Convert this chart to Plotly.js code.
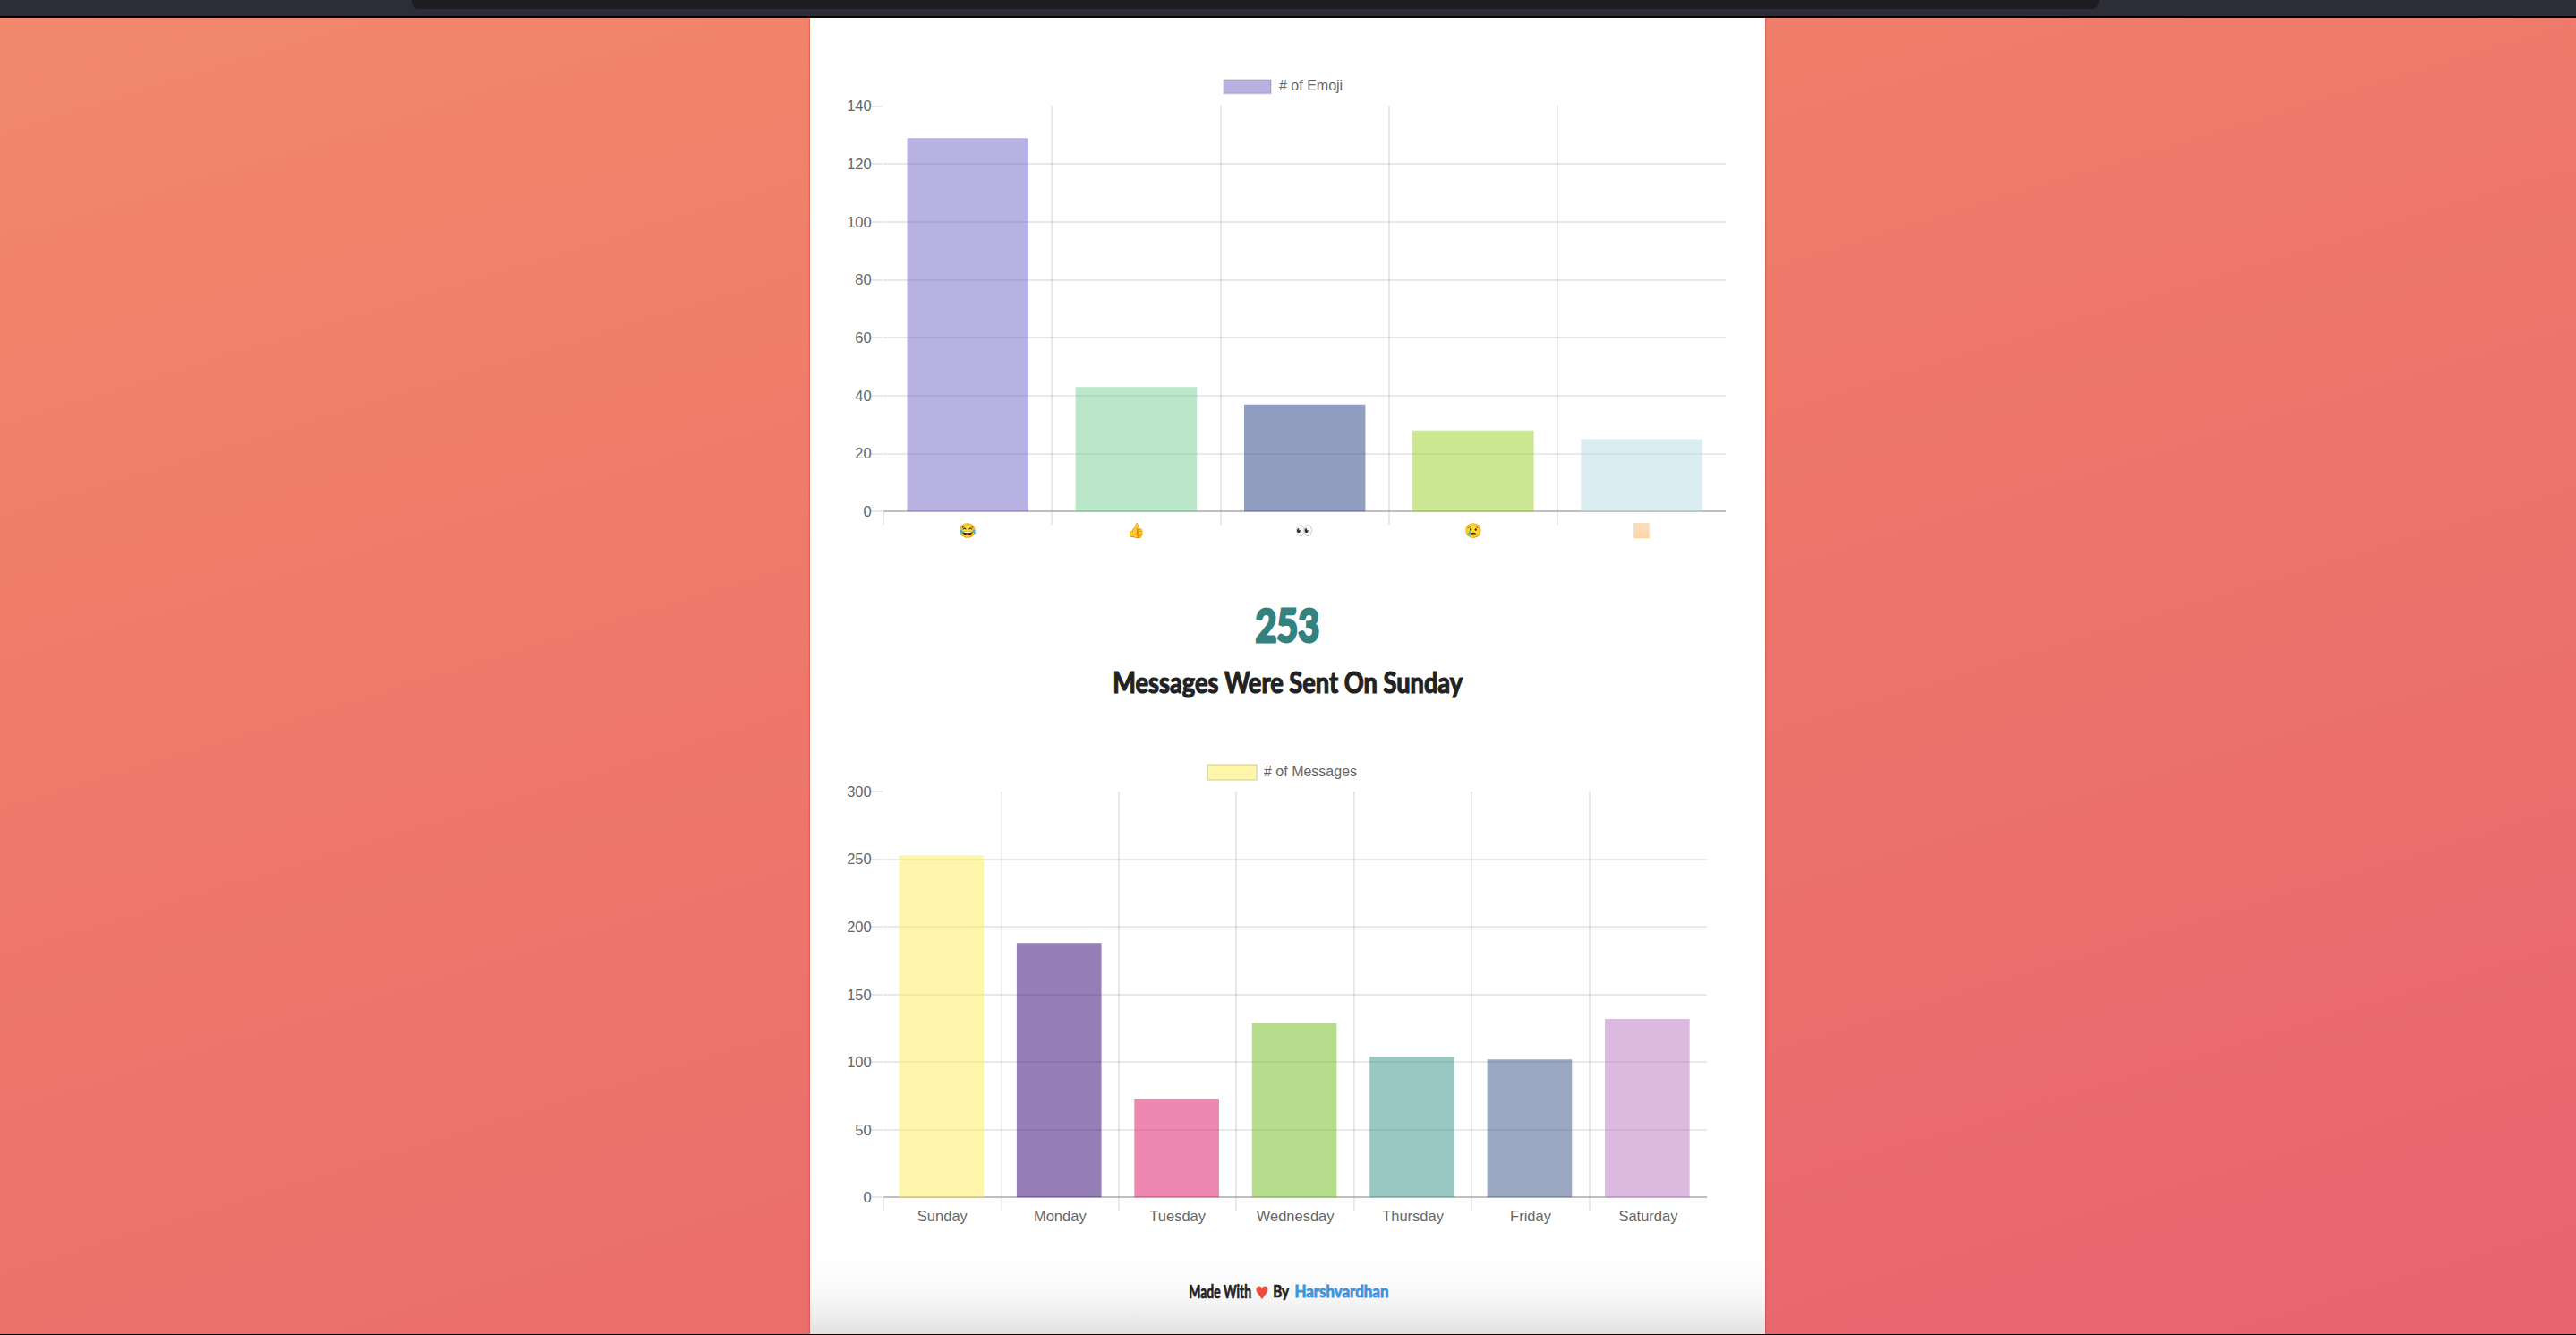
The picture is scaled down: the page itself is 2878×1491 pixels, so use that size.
<!DOCTYPE html>
<html><head><meta charset="utf-8">
<script src="https://cdn.plot.ly/plotly-3.0.1.min.js"></script>
<style>
html,body{margin:0;padding:0;width:2878px;height:1491px;overflow:hidden;background:#000}
#bg{position:absolute;left:0;top:20px;width:2878px;height:1470px;background:linear-gradient(163deg,#F1886A 0%,#EE776A 45%,#E8646F 100%)}
#panel{position:absolute;left:905px;top:20px;width:1067px;height:1470px;background:linear-gradient(to bottom,#fff 0,#fff 1385px,#f7f7f7 1430px,#e2e2e2 1470px);box-shadow:0 0 2px rgba(120,30,20,.6)}
#bar{position:absolute;left:0;top:0;width:2878px;height:18px;background:#2d2d37}
#bar2{position:absolute;left:460px;top:0;width:1885px;height:10px;background:#1c1c21;border-radius:0 0 8px 8px}
#chart{position:absolute;left:0;top:0;width:2878px;height:1491px}
</style></head><body>
<div id="bg"></div><div id="panel"></div><div id="bar"></div><div id="bar2"></div>
<div id="chart"></div>
<script>
// Data
const emojiLabels = ['😂','👍','👀','😢','🏻'];
const emojiCounts = [129,43,37,28,25];
const emojiColors = ['rgba(113,101,199,.5)','rgba(117,205,149,.5)','rgba(35,61,131,.5)','rgba(151,207,37,.5)','rgba(181,219,225,.5)'];
const dayLabels = ['Sunday','Monday','Tuesday','Wednesday','Thursday','Friday','Saturday'];
const dayCounts = [253,188,73,129,104,102,132];
const dayColors = ['rgba(251,237,87,.5)','rgba(43,0,109,.5)','rgba(221,17,99,.5)','rgba(109,187,23,.5)','rgba(55,143,133,.5)','rgba(57,81,131,.5)','rgba(185,117,193,.5)'];
const emojiLegend = '# of Emoji', dayLegend = '# of Messages';
const bigNumber = '253', headline = 'Messages Were Sent On Sunday';
const footerMade = 'Made With', footerHeart = '♥', footerBy = 'By', footerName = 'Harshvardhan';

const W=2878,H=1491;
const fx=p=>p/W, fy=p=>1-p/H;
const tickFont={family:'"Liberation Sans",Arial,sans-serif',size:16.5,color:'#666'};
const display='Lato,"Liberation Sans",sans-serif';
const grid='rgba(0,0,0,.085)';
function xa(dom){return {domain:dom,type:'category',tickson:'boundaries',ticks:'outside',ticklen:14,tickcolor:grid,tickwidth:2,showgrid:true,gridcolor:grid,gridwidth:2,showline:false,zeroline:false,tickfont:tickFont,ticklabelstandoff:9,fixedrange:true,tickangle:0};}
function ya(dom,top,dt){return {domain:dom,range:[0,top],dtick:dt,ticks:'outside',ticklen:14,tickcolor:grid,tickwidth:2,showgrid:true,gridcolor:grid,gridwidth:2,zeroline:true,zerolinecolor:'rgba(0,0,0,.25)',zerolinewidth:2,showline:false,tickfont:tickFont,ticklabelstandoff:-5,fixedrange:true};}

const traces=[
 {type:'bar',x:emojiLabels,y:emojiCounts,xaxis:'x',yaxis:'y',marker:{color:emojiColors,line:{width:0}},width:0.72,hoverinfo:'x+y'},
 {type:'bar',x:dayLabels,y:dayCounts,xaxis:'x2',yaxis:'y2',marker:{color:dayColors,line:{width:0}},width:0.72,offset:-0.368,hoverinfo:'x+y'}
];
const xaxis=xa([fx(987),fx(1928)]); xaxis.anchor='y'; xaxis.range=[-0.501,4.499];
xaxis.tickfont=Object.assign({},tickFont,{family:'"Noto Color Emoji","Apple Color Emoji","Liberation Sans",sans-serif',size:16}); xaxis.ticklabelstandoff=10;
const xaxis2=xa([fx(987),fx(1907)]); xaxis2.anchor='y2'; xaxis2.range=[-0.501,6.499];
const yaxis=ya([fy(571.4),fy(118.4)],140.05,20); yaxis.anchor='x';
const yaxis2=ya([fy(1337.4),fy(884)],300.1,50); yaxis2.anchor='x2';

function ann(text,x,y,size,color,family,extra){return Object.assign({xref:'paper',yref:'paper',x:fx(x),y:fy(y),text,showarrow:false,xanchor:'center',yanchor:'middle',font:{size,color,family}},extra||{});}
const layout={
 width:W,height:H,margin:{l:0,r:0,t:0,b:0,pad:0},paper_bgcolor:'rgba(0,0,0,0)',plot_bgcolor:'rgba(0,0,0,0)',showlegend:false,
 xaxis,yaxis,xaxis2,yaxis2,
 shapes:[
  {type:'rect',xref:'paper',yref:'paper',x0:fx(1367),x1:fx(1420),y0:fy(104.5),y1:fy(89),fillcolor:emojiColors[0],line:{color:'rgba(0,0,0,.1)',width:2}},
  {type:'rect',xref:'paper',yref:'paper',x0:fx(1349),x1:fx(1404),y0:fy(871),y1:fy(854),fillcolor:dayColors[0],line:{color:'rgba(0,0,0,.1)',width:2}}
 ],
 annotations:[
  ann(emojiLegend,1427,95,16,'#666',tickFont.family,{xanchor:'left'}),
  ann(dayLegend,1410,861,16,'#666',tickFont.family,{xanchor:'left'}),
  ann('<b>'+bigNumber+'</b>',1438.5,697,51,'#348280',display),
  ann('<b>'+headline+'</b>',1438.5,761,32,'#222',display),
  ann('<b>'+footerMade+'</b>',1362.5,1441.5,20,'#222',display),
  ann(footerHeart,1410,1444,20,'#e74c3c','"DejaVu Sans",sans-serif'),
  ann('<b>'+footerBy+'</b>',1431,1441.5,19,'#222',display),
  ann('<b>'+footerName+'</b>',1499,1441.5,18,'#3d94db',display)
 ]
};
// condensed, heavy display text: [exact width in px, stroke weight]
const fit={[bigNumber]:[72,3],[headline]:[391,1.2],[footerMade]:[70,.7],[footerBy]:[18,.7],[footerName]:[105,.8],[footerHeart]:[16,0]};
Plotly.newPlot('chart',traces,layout,{displayModeBar:false,staticPlot:true}).then(()=>{
 document.querySelectorAll('#chart .annotation-text').forEach(t=>{
  const f=fit[t.textContent];
  if(f){t.setAttribute('textLength',f[0]);t.setAttribute('lengthAdjust','spacingAndGlyphs');t.style.stroke=t.style.fill;t.style.strokeWidth=f[1]+'px';}
 });
});
</script></body></html>
